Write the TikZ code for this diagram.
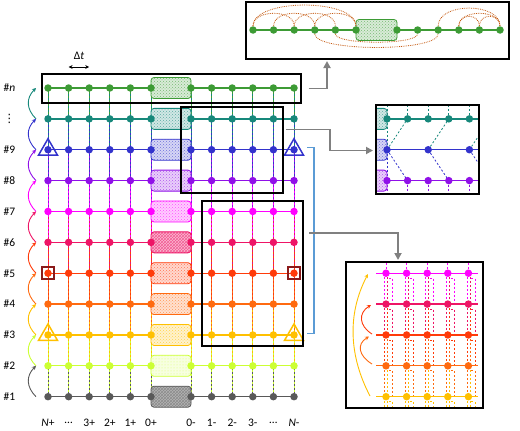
\documentclass[tikz,border=0pt]{standalone}
\usepackage{fontspec}
\setmainfont{Carlito}
\newfontfamily\symfont{DejaVu Sans}
\usetikzlibrary{patterns,arrows.meta,shapes.geometric,calc}

% row colours, top (#n) to bottom (#1)
\definecolor{row1}{HTML}{3D9B35}
\definecolor{row2}{HTML}{17887B}
\definecolor{row3}{HTML}{3333CC}
\definecolor{row4}{HTML}{9010E8}
\definecolor{row5}{HTML}{FF00FF}
\definecolor{row6}{HTML}{EE1566}
\definecolor{row7}{HTML}{FF3B0A}
\definecolor{row8}{HTML}{FF6A10}
\definecolor{row9}{HTML}{FFC000}
\definecolor{row10}{HTML}{CCFF33}
\definecolor{row11}{HTML}{595959}
\definecolor{arrowgray}{HTML}{808080}
\definecolor{bracketblue}{HTML}{5B9BD5}
\definecolor{markred}{HTML}{8B1A1A}
\definecolor{hopbrown}{HTML}{C55A11}

\begin{document}
\begin{tikzpicture}[
    x=1pt, y=-1pt,
    >={Stealth[length=4pt,width=4pt]},
    rowline/.style={
        line width=1.3pt
    },
    gridpt/.style={
        circle,
        inner sep=0pt,
        minimum size=7.5pt
    },
    vdash/.style={
        line width=0.8pt,
        dash pattern=on 2pt off 2pt
    },
    midbox/.style={
        rounded corners=3pt,
        line width=0.8pt,
        minimum width=40pt,
        minimum height=21pt,
        inner sep=0pt
    },
    zoomframe/.style={
        draw=black,
        line width=1.4pt,
        inner sep=0pt
    },
    zoomarrow/.style={
        draw=arrowgray,
        line width=1.8pt,
        -{Triangle[length=7pt,width=7pt]}
    },
    hop/.style={
        ->,
        line width=0.9pt
    },
    hoparc/.style={
        hopbrown,
        line width=0.8pt,
        densely dotted
    },
    bracket/.style={
        bracketblue,
        line width=1.2pt
    },
    rowlabel/.style={
        font=\fontsize{11.5}{13}\selectfont
    },
    marktri/.style={
        regular polygon,
        regular polygon sides=3,
        line width=1.5pt,
        minimum size=22pt,
        inner sep=0pt
    },
    marksq/.style={
        draw=markred,
        line width=1.5pt,
        minimum size=12pt,
        inner sep=0pt
    }
]
\useasboundingbox (0,0) rectangle (520,431);

% ==================================================
% Grid positions
% ==================================================

\foreach \r in {1,...,11}{
    \pgfmathsetmacro{\y}{88+30.87*(\r-1)}
    \foreach \c/\x in {1/48,2/68.6,3/89.2,4/109.8,5/130.4,6/151,
                       7/191,8/211.6,9/232.2,10/252.8,11/273.4,12/294}
        \coordinate (p-\r-\c) at (\x,\y);
    \coordinate (h-\r) at (36,\y);
}

% ==================================================
% Vertical dashed links between rows
% ==================================================

\foreach \r in {1,...,10}{
    \pgfmathtruncatemacro{\rn}{\r+1}
    \foreach \c in {1,...,12}{
        \draw[vdash, row\r] (p-\r-\c) -- (p-\rn-\c);
        \draw[vdash, row\rn, dash phase=2pt] (p-\r-\c) -- (p-\rn-\c);
    }
}

% ==================================================
% Rows, middle boxes and points
% ==================================================

\foreach \r/\pat/\tint in {1/crosshatch dots/20, 2/crosshatch dots/20,
        3/crosshatch dots/20, 4/crosshatch dots/20, 5/crosshatch dots/20,
        6/crosshatch/30, 7/crosshatch dots/20, 8/crosshatch dots/20,
        9/crosshatch dots/20, 10/dots/15, 11/crosshatch/45}{
    \draw[rowline, row\r] (p-\r-1) -- (p-\r-12);
    \node[midbox, draw=row\r, preaction={fill=row\r!\tint},
          pattern=\pat, pattern color=row\r!70]
        (box-\r) at ($(p-\r-6)!0.5!(p-\r-7)$) {};
    \foreach \c in {1,...,12}
        \node[gridpt, fill=row\r] (d-\r-\c) at (p-\r-\c) {};
}

% Hops on the left
\foreach \r in {1,...,10}{
    \pgfmathtruncatemacro{\rn}{\r+1}
    \draw[hop, row\rn] (h-\rn) .. controls +(-10,-10) and +(-10,10) .. (h-\r);
}

% ==================================================
% Labels
% ==================================================

\foreach \r/\txt in {1/\#\textit{n}, 2/{\symfont ⋮}, 3/\#9, 4/\#8, 5/\#7,
        6/\#6, 7/\#5, 8/\#4, 9/\#3, 10/\#2, 11/\#1}
    \node[rowlabel] (lab-\r) at ([xshift=-38.5pt]p-\r-1) {\txt};

\foreach \c/\txt in {1/\textit{N}+, 2/…, 3/3+, 4/2+, 5/1+, 6/0+,
        7/0-, 8/1-, 9/2-, 10/3-, 11/…, 12/\textit{N}-}
    \node[rowlabel] (col-\c) at ([yshift=-26pt]p-11-\c) {\txt};

% Time step
\coordinate (dt-a) at (68.6,67);
\coordinate (dt-b) at (89.2,67);
\node[rowlabel] (dt) at (79,56) {Δ\textit{t}};
\draw[<->, line width=0.8pt] (dt-a) -- (dt-b);

% ==================================================
% Markers
% ==================================================

\node[marktri, draw=row3] (tri-9l) at (p-3-1) {};
\node[marktri, draw=row3] (tri-9r) at (p-3-12) {};
\node[marktri, draw=row9] (tri-3l) at (p-9-1) {};
\node[marktri, draw=row9] (tri-3r) at (p-9-12) {};
\node[marksq] (sq-5l) at (p-7-1) {};
\node[marksq] (sq-5r) at (p-7-12) {};

% Bracket between the two triangles
\coordinate (bk-top) at (307,147.5);
\coordinate (bk-bot) at (307,333.5);
\draw[bracket] (bk-top) -- ++(7,0) |- (bk-bot);

% ==================================================
% Selection frames
% ==================================================

\node[zoomframe, minimum width=259pt, minimum height=29pt]
    (sel-top) at (171.5,88.5) {};
\node[zoomframe, minimum width=102pt, minimum height=86pt]
    (sel-mid) at (232,150) {};
\node[zoomframe, minimum width=101pt, minimum height=145pt]
    (sel-low) at (252.5,273.5) {};

% ==================================================
% Inset: top row
% ==================================================

\foreach \i/\x in {1/253,2/273.6,3/294.2,4/314.8,5/335.4,6/356,
                   7/397,8/417.6,9/438.2,10/458.8,11/479.4,12/500}
    \coordinate (q-\i) at (\x,30);
\draw[rowline, row1] (q-1) -- (q-12);
\node[midbox, minimum width=41pt, draw=row1, preaction={fill=row1!20},
      pattern=crosshatch dots, pattern color=row1!70]
    (box-top) at ($(q-6)!0.5!(q-7)$) {};
\foreach \i in {1,...,12}
    \node[gridpt, fill=row1] (t-\i) at (q-\i) {};

% hops above the line
\foreach \i/\j in {1/3,2/4,3/5,4/6}
    \draw[hoparc] (t-\i.north) .. controls +(0,-17) and +(0,-17) .. (t-\j.north);
\draw[hoparc] (t-1.north) .. controls +(0,-28) and +(0,-28) .. (t-6.north);
\draw[hoparc] (t-9.north) .. controls +(0,-24) and +(0,-24) .. (t-12.north);
\draw[hoparc] (t-10.north) .. controls +(0,-17) and +(0,-17) .. (t-12.north);
\draw[hoparc] (t-10.north) .. controls +(0,-13) and +(0,-13) .. (t-11.north);
\draw[hoparc] (t-11.north) .. controls +(0,-13) and +(0,-13) .. (t-12.north);
% hops below the line
\draw[hoparc] (t-4.south) .. controls +(0,18) and +(0,18) .. (t-9.south);
\draw[hoparc] (t-5.south) .. controls +(0,11) and +(0,11) .. (t-8.south);

\node[zoomframe, minimum width=263pt, minimum height=57pt]
    (zoom-top) at (377.5,30.5) {};

% ==================================================
% Inset: rows ... to #8
% ==================================================

\node[minimum width=103pt, minimum height=89pt, inner sep=0pt]
    (zoom-mid) at (427.5,149.5) {};
\begin{scope}
    \clip (zoom-mid.south west) rectangle (zoom-mid.north east);
    \foreach \r in {2,3,4}{
        \pgfmathsetmacro{\y}{88+30.87*(\r-1)}
        \foreach \j in {0,...,5}
            \coordinate (m-\r-\j) at (387+20.6*\j,\y);
    }
    % vertical links
    \foreach \j in {0,...,5}{
        \draw[vdash, row2] (m-2-\j) -- ++(0,-20);
        \draw[vdash, row4] (m-4-\j) -- ++(0,20);
    }
    \draw[vdash, row2] (m-2-0) -- (m-3-0);
    \draw[vdash, row3] (m-3-0) -- (m-4-0);
    % diagonal links
    \foreach \j in {0,2,4}{
        \pgfmathtruncatemacro{\jn}{\j+1}
        \draw[vdash, row2] (m-3-\j) -- (m-2-\jn);
        \draw[vdash, row3] (m-3-\j) -- (m-4-\jn);
    }
    \foreach \r in {2,3,4}{
        \draw[rowline, row\r] ([xshift=-20pt]m-\r-0) -- ([xshift=10pt]m-\r-5);
        \node[midbox, draw=row\r, preaction={fill=row\r!20},
              pattern=crosshatch dots, pattern color=row\r!70]
            (mbox-\r) at ([xshift=-20pt]m-\r-0) {};
    }
    \foreach \j in {0,...,5}{
        \node[gridpt, fill=row2] (mt-\j) at (m-2-\j) {};
        \node[gridpt, fill=row4] (mv-\j) at (m-4-\j) {};
    }
    \foreach \j in {0,2,4}
        \node[gridpt, fill=row3] (mb-\j) at (m-3-\j) {};
\end{scope}
\node[zoomframe, minimum width=103pt, minimum height=89pt] at (zoom-mid) {};

% ==================================================
% Inset: rows #7 to #3
% ==================================================

\node[minimum width=137pt, minimum height=146pt, inner sep=0pt]
    (zoom-low) at (414.5,335) {};
\begin{scope}
    \clip (zoom-low.south west) rectangle (zoom-low.north east);
    \foreach \k in {5,...,9}{
        \pgfmathsetmacro{\y}{88+30.87*(\k+1)}
        \foreach \j in {0,...,4}
            \coordinate (w-\k-\j) at (386+20.6*\j,\y);
    }
    % vertical links, three per column
    \foreach \k in {5,...,8}{
        \pgfmathtruncatemacro{\kn}{\k+1}
        \foreach \j in {0,...,4}{
            \draw[vdash, row\k] ([xshift=-1.5pt]w-\k-\j) -- ([xshift=-1.5pt]w-\kn-\j);
            \draw[vdash, row\kn] ([xshift=1.5pt]w-\k-\j) -- ([xshift=1.5pt]w-\kn-\j);
            \draw[vdash, row\k, line width=0.7pt] ([xshift=3pt,yshift=-5pt]w-\k-\j)
                -- ++(3.5,0) -- ([xshift=6.5pt]w-\kn-\j);
        }
    }
    \foreach \j in {0,...,4}{
        \draw[vdash, row5] (w-5-\j) -- ++(0,-12);
        \draw[vdash, row9] ([xshift=-1.5pt]w-9-\j) -- ++(0,14);
        \draw[vdash, row9] ([xshift=1.5pt]w-9-\j) -- ++(0,14);
        \draw[vdash, row9, line width=0.7pt] ([xshift=3pt,yshift=-5pt]w-9-\j)
            -- ++(3.5,0) -- ++(0,20);
    }
    \foreach \k in {5,...,9}{
        \draw[rowline, row\k] ([xshift=-10pt]w-\k-0) -- ([xshift=10pt]w-\k-4);
        \foreach \j in {0,...,4}
            \node[gridpt, fill=row\k] (wd-\k-\j) at (w-\k-\j) {};
    }
    % hops on the left
    \coordinate (wh-5) at (368,274);
    \coordinate (wh-6) at (371,305);
    \coordinate (wh-7a) at (372,334);
    \coordinate (wh-7b) at (369,336.5);
    \coordinate (wh-8) at (372,364);
    \coordinate (wh-9) at (370,396);
    \draw[hop, row9] (wh-9) .. controls +(-21,-40) and +(-21,40) .. (wh-5);
    \draw[hop, row7] (wh-7a) .. controls +(-13,-8) and +(-13,8) .. (wh-6);
    \draw[hop, row8] (wh-8) .. controls +(-13,-8) and +(-13,8) .. (wh-7b);
\end{scope}
\node[zoomframe, minimum width=137pt, minimum height=146pt] at (zoom-low) {};

% ==================================================
% Zoom arrows
% ==================================================

\coordinate (top-in) at (327,61);
\draw[zoomarrow] ([xshift=7pt]sel-top.east) -| (top-in);

\coordinate (mid-out) at (286,129.5);
\coordinate (mid-in) at (373,150.5);
\draw[zoomarrow] (mid-out) -- ++(44,0) |- (mid-in);

\coordinate (low-out) at (309,233);
\coordinate (low-in) at (398,260);
\draw[zoomarrow] (low-out) -| (low-in);

\end{tikzpicture}
\end{document}
